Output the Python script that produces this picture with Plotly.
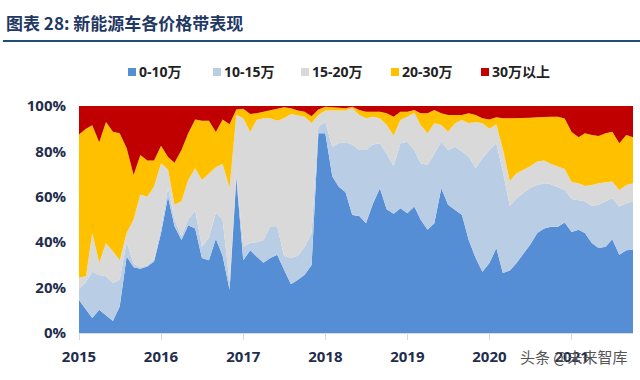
import pandas as pd
import plotly.graph_objects as go

months = pd.date_range("2015-01-01", "2021-10-01", freq="MS")

# cumulative boundaries (%)
blue_top = [14.5, 10.5, 6.6, 10.2, 7.8, 5.3, 11.7, 33.7, 29, 28.3, 29.3, 31.5,
            44, 60, 47, 41, 47.5, 46, 33, 32, 41.5, 34, 19, 68.5,
            32, 36.5, 33.7, 31, 33, 34.5, 28, 21.5, 23.5, 25.7, 30, 88,
            88, 69, 64.5, 62, 52, 51.5, 48.4, 57, 63.8, 54.5, 52.5, 55,
            52.8, 55.7, 50, 45.5, 48.4, 63.8, 56.5, 54.3, 52, 41, 33, 27,
            30.8, 37.4, 26.4, 27.5, 30.8, 35, 39, 44, 46, 46.8, 46.8, 48.7,
            44.5, 45.5, 44, 39.6, 37.4, 38, 41.3, 34.5, 36.4, 36.7]
lb_top = [19.5, 22.5, 27, 25.5, 25, 22, 23.5, 40, 30.5, 29, 30, 32.5,
          46, 64, 50, 42.5, 50, 54, 38, 42, 53, 50, 22, 70,
          38, 39.6, 40, 41, 47, 47, 34, 33, 34, 38, 44, 91,
          93, 82, 83.6, 84, 83, 80.6, 80.6, 83, 83.6, 79, 73.5, 83.6,
          84.3, 80.6, 74.8, 74, 79, 84.3, 80.6, 82, 80, 77.7, 72.6, 77,
          80.6, 83.6, 71, 56, 59.4, 61.6, 64, 65.2, 66, 65.5, 64.3, 63,
          59, 58.4, 58, 56, 56.5, 58, 59.4, 55.7, 57.2, 58]
gray_top = [24.5, 25, 44, 31, 39.5, 36, 32, 44, 50, 61, 60, 64.5,
            74.8, 72, 56.5, 58, 67.4, 72.6, 67.4, 70, 73, 74.5, 64, 96,
            94.6, 88.5, 93.8, 94.6, 94.6, 93.5, 94.6, 96.5, 96, 95.3, 92.5, 96,
            98, 98, 98, 98, 99, 96, 94.6, 95.3, 94.6, 91.6, 87, 93.8,
            95.3, 97, 91.6, 88, 92.4, 91.6, 88.7, 92.4, 93.8, 92.4, 93, 92.4,
            90, 92, 81, 67, 70.4, 71.8, 73.5, 75.5, 76, 74.5, 73.3, 72.2,
            66.5, 66, 64.8, 65.2, 66, 66.3, 66.7, 63, 65.2, 66]
yel_top = [87.5, 90, 91.5, 84, 93, 88.7, 88, 81.5, 69.6, 78.4, 76, 76,
           82.5, 77.5, 75, 80.6, 88, 94, 93.5, 93.5, 88.5, 94, 92, 98.5,
           98.8, 96.5, 96.8, 97.5, 98, 99, 99.5, 99, 98, 97.5, 95.5, 98.5,
           99.7, 99.5, 99.3, 99, 99.7, 98.2, 97.5, 97.5, 97.5, 96.8, 95.3, 97.5,
           97.5, 98.2, 96.8, 96.8, 98.2, 96.8, 96, 96, 96, 96.8, 96, 94.6,
           94, 95, 94.6, 94.6, 94.6, 94.6, 94.8, 95, 95.3, 95.3, 95.3, 94.5,
           88.5, 86.2, 88, 87.2, 86.8, 88, 88.7, 83.6, 87.2, 86.2]

s_0_10 = blue_top
s_10_15 = [round(b - a, 2) for a, b in zip(blue_top, lb_top)]
s_15_20 = [round(b - a, 2) for a, b in zip(lb_top, gray_top)]
s_20_30 = [round(b - a, 2) for a, b in zip(gray_top, yel_top)]
s_30p = [round(100 - a, 2) for a in yel_top]

names = ["0-10万", "10-15万", "15-20万", "20-30万", "30万以上"]
colors = ["#558ED5", "#B9CDE5", "#D9D9D9", "#FFC000", "#C00000"]
series = [s_0_10, s_10_15, s_15_20, s_20_30, s_30p]

# plot-area geometry (pixels)
L, R, T, B = 79, 7, 106, 47
W, H = 640, 380
PW, PH = W - L - R, H - T - B


def px(x):
    return (x - L) / PW


def py(y):
    return 1 + (T - y) / PH


fig = go.Figure()
for n, c, s in zip(names, colors, series):
    fig.add_trace(go.Scatter(x=months, y=s, name=n, mode="lines",
                             stackgroup="one", line=dict(width=0, color=c),
                             fillcolor=c, hoverinfo="skip", showlegend=False))

navy = "#1F2D4D"
fig.update_layout(
    width=W, height=H,
    margin=dict(l=L, r=R, t=T, b=B, autoexpand=False),
    paper_bgcolor="white", plot_bgcolor="white",
    font=dict(family="Open Sans, Noto Sans CJK SC, sans-serif", color=navy),
    showlegend=False,
    xaxis=dict(range=[months[0], months[-1]], tickformat="%Y", dtick="M12",
               tick0="2015-01-01", showgrid=False, showline=True, linecolor="#D9D9D9",
               ticks="outside", ticklen=6, tickcolor="#D9D9D9",
               ticklabelstandoff=4,
               tickfont=dict(size=15, color=navy, weight="bold")),
    yaxis=dict(range=[0, 100], dtick=20, ticksuffix="%", showgrid=False,
               zeroline=False, showline=False, ticklabelstandoff=12,
               tickfont=dict(size=15, color=navy, weight="bold")),
)

# title and rule
fig.add_annotation(text="图表 28: 新能源车各价格带表现", xref="paper", yref="paper",
                   x=px(4), y=py(22), xanchor="left", yanchor="middle", showarrow=False,
                   font=dict(family="Noto Sans CJK SC", size=17, color="#1F3864", weight="bold"))
fig.add_shape(type="line", xref="paper", yref="paper",
              x0=px(3), x1=px(640), y0=py(41), y1=py(41),
              line=dict(color="#1F4E79", width=2))

# legend (manual)
sq_x = [128, 213, 301, 391, 481]
for n, c, sx in zip(names, colors, sq_x):
    fig.add_shape(type="rect", xref="paper", yref="paper",
                  x0=px(sx), x1=px(sx + 8), y0=py(76), y1=py(68),
                  fillcolor=c, line=dict(width=0))
    fig.add_annotation(text=n, xref="paper", yref="paper",
                       x=px(sx + 9), y=py(72), xanchor="left", yanchor="middle",
                       showarrow=False,
                       font=dict(family="Open Sans, Noto Sans CJK SC", size=14,
                                 color="#222222", weight="bold"))

fig.add_annotation(text="头条 @未来智库", xref="paper", yref="paper",
                   x=px(630), y=py(356), xanchor="right", yanchor="middle",
                   showarrow=False,
                   font=dict(family="Noto Sans CJK SC", size=15, color="#555555"))
fig.write_html("out.html", config={"displayModeBar": False},
               post_script="document.body.style.margin='0';document.body.style.overflow='hidden';")
